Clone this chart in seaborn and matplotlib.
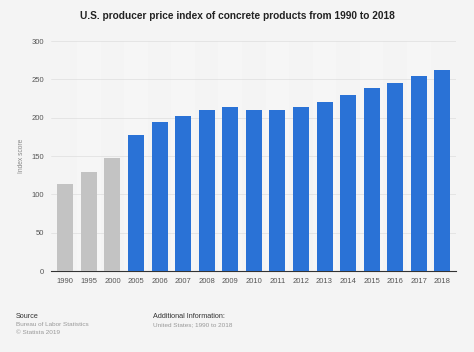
import matplotlib
matplotlib.use("Agg")
import matplotlib.pyplot as plt
import seaborn as sns
import pandas as pd

# Data
years = ["1990", "1995", "2000", "2005", "2006", "2007", "2008", "2009", "2010",
         "2011", "2012", "2013", "2014", "2015", "2016", "2017", "2018"]
index_score = [113, 129, 147, 177, 195, 203, 210, 214, 210,
               210, 214, 220, 230, 239, 246, 254, 263]
n_grey = 3  # early years shown in grey

df = pd.DataFrame({"year": years, "score": index_score})
colors = ["#c3c3c3"] * n_grey + ["#2a72d6"] * (len(years) - n_grey)

sns.set_style("white")
plt.rcParams["font.family"] = ["Liberation Sans", "DejaVu Sans"]

bg = "#f4f4f4"
fig = plt.figure(figsize=(4.74, 3.52), dpi=100, facecolor=bg)
ax = fig.add_axes([0.108, 0.23, 0.855, 0.653])
ax.set_facecolor(bg)

# faint alternating column bands
for i in range(1, len(years), 2):
    ax.axvspan(i - 0.5, i + 0.5, color="white", alpha=0.25, lw=0, zorder=0)

sns.barplot(data=df, x="year", y="score", hue="year", palette=colors,
            legend=False, width=0.68, saturation=1, linewidth=0,
            ax=ax, zorder=3)

ax.set_ylim(0, 300)
ax.set_xlim(-0.6, len(years) - 0.4)
ax.set_yticks(range(0, 301, 50))
ax.yaxis.grid(True, color="#e2e2e2", lw=0.6, zorder=1)
ax.set_axisbelow(True)
for s in ["top", "right", "left"]:
    ax.spines[s].set_visible(False)
ax.spines["bottom"].set_color("#333333")
ax.spines["bottom"].set_linewidth(0.8)
ax.tick_params(axis="both", length=0, labelsize=5.5, labelcolor="#555555", pad=5)
ax.set_xlabel("")
ax.set_ylabel("Index score", fontsize=4.8, color="#888888", labelpad=5)

fig.text(0.5, 0.955, "U.S. producer price index of concrete products from 1990 to 2018",
         ha="center", va="center", fontsize=7.3, fontweight="bold", color="#222222")

fig.text(0.034, 0.102, "Source", fontsize=5.2, color="#333333", va="center")
fig.text(0.034, 0.077, "Bureau of Labor Statistics", fontsize=4.6, color="#999999", va="center")
fig.text(0.034, 0.056, "\u00a9 Statista 2019", fontsize=4.6, color="#999999", va="center")
fig.text(0.323, 0.102, "Additional Information:", fontsize=5.2, color="#333333", va="center")
fig.text(0.323, 0.077, "United States; 1990 to 2018", fontsize=4.6, color="#999999", va="center")

fig.savefig("out.png", dpi=100, facecolor=bg)
